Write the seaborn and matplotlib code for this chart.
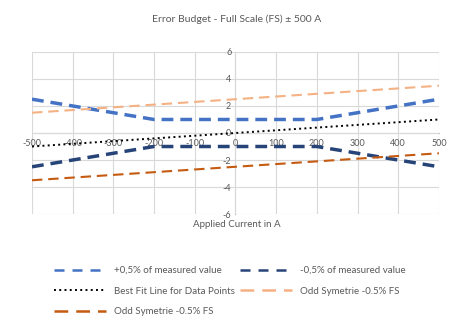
import numpy as np
import pandas as pd
import matplotlib
matplotlib.use("Agg")
import matplotlib.pyplot as plt
from matplotlib.lines import Line2D
import seaborn as sns

# Applied current steps (A)
current = [-500, -400, -300, -200, -100, 0, 100, 200, 300, 400, 500]

# Error limits (A)
plus_measured = [2.5, 2.0, 1.5, 1.0, 1.0, 1.0, 1.0, 1.0, 1.5, 2.0, 2.5]
minus_measured = [-2.5, -2.0, -1.5, -1.0, -1.0, -1.0, -1.0, -1.0, -1.5, -2.0, -2.5]
best_fit = [-1.0, -0.8, -0.6, -0.4, -0.2, 0.0, 0.2, 0.4, 0.6, 0.8, 1.0]
odd_upper = [1.5, 1.7, 1.9, 2.1, 2.3, 2.5, 2.7, 2.9, 3.1, 3.3, 3.5]
odd_lower = [-3.5, -3.3, -3.1, -2.9, -2.7, -2.5, -2.3, -2.1, -1.9, -1.7, -1.5]

labels = ["+0,5% of measured value", "-0,5% of measured value",
          "Best Fit Line for Data Points", "Odd Symetrie -0.5% FS",
          "Odd Symetrie -0.5% FS"]

x_ticks = list(range(-500, 501, 100))
y_ticks = [-6, -4, -2, 0, 2, 4, 6]

sns.set_theme(style="white")
plt.rcParams["font.family"] = ["Lato", "DejaVu Sans"]
plt.rcParams["axes.unicode_minus"] = False

text_col = "#595959"
grid_col = "#d9d9d9"

fig = plt.figure(figsize=(4.74, 3.35), dpi=100)
ax = fig.add_axes([0.0675, 0.361, 0.8585, 0.484])

# (values, colour, plot width, dash pattern, legend width, legend dashes)
series = [
    (plus_measured, "#4472C4", 2.5, (3.4, 2.0), 1.8, (4.0, 3.2)),
    (minus_measured, "#264478", 2.5, (3.4, 2.0), 1.8, (4.0, 3.2)),
    (best_fit, "#000000", 1.4, (1.0, 1.7), 1.4, (1.0, 1.7)),
    (odd_upper, "#F4B183", 1.5, (5.0, 2.8), 1.8, (5.5, 3.2)),
    (odd_lower, "#C55A11", 1.5, (5.0, 2.8), 1.8, (5.5, 3.2)),
]

handles = []
for (vals, col, lw, dash, leg_lw, leg_dash), lab in zip(series, labels):
    df = pd.DataFrame({"current": current, "error": vals})
    sns.lineplot(data=df, x="current", y="error", ax=ax, color=col, lw=lw,
                 legend=False)
    line = ax.lines[-1]
    line.set_dashes(dash)
    line.set_dash_capstyle("butt")
    proxy = Line2D([], [], color=col, lw=leg_lw)
    proxy.set_dashes(leg_dash)
    proxy.set_dash_capstyle("butt")
    handles.append(proxy)

ax.set_xlim(-500, 500)
ax.set_ylim(-6, 6)
ax.set_xticks(x_ticks)
ax.set_yticks(y_ticks)
ax.grid(True, color=grid_col, lw=0.8)
ax.set_axisbelow(True)

for side in ["top", "right"]:
    ax.spines[side].set_visible(False)
ax.spines["bottom"].set_position(("data", 0))
ax.spines["left"].set_position(("data", 0))
for side in ["bottom", "left"]:
    ax.spines[side].set_color("#bfbfbf")
    ax.spines[side].set_linewidth(0.8)
    ax.spines[side].set_zorder(0.5)

ax.tick_params(axis="both", length=0, labelsize=6.5, labelcolor=text_col)
ax.tick_params(axis="x", pad=4)
ax.tick_params(axis="y", pad=3)
ax.set_xlabel("")
ax.set_ylabel("")

fig.text(0.5, 0.943, "Error Budget - Full Scale (FS) \u00b1 500 A",
         ha="center", va="center", fontsize=7.5, color=text_col)
fig.text(0.5, 0.331, "Applied Current in A", ha="center", va="center",
         fontsize=7, color=text_col)

order = [0, 2, 4, 1, 3]
leg = fig.legend([handles[i] for i in order], [labels[i] for i in order],
                 loc="center", bbox_to_anchor=(0.485, 0.131), ncol=2,
                 frameon=False, fontsize=7, handlelength=5.3,
                 handletextpad=0.8, columnspacing=0.6, labelspacing=1.2)
for t in leg.get_texts():
    t.set_color(text_col)

fig.savefig("out.png", dpi=100, facecolor="white")
